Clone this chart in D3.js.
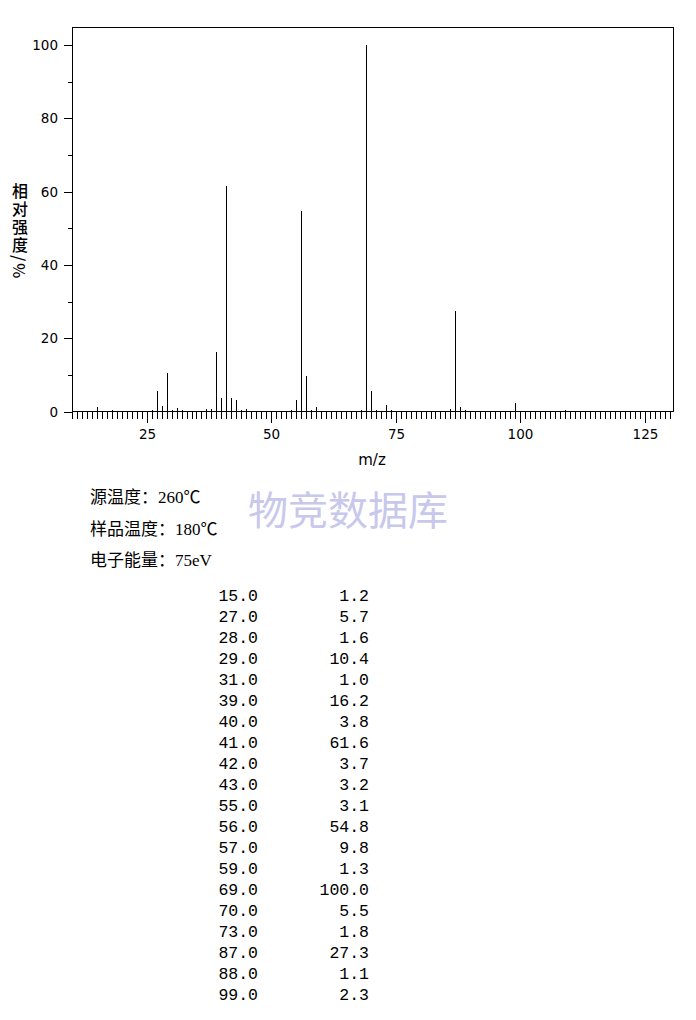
<!DOCTYPE html>
<html><head><meta charset="utf-8">
<script src="https://cdn.jsdelivr.net/npm/d3@7"></script>
<style>
html,body{margin:0;padding:0;background:#fff;}
svg{display:block;}
</style></head>
<body>
<script>
// Listed peaks (m/z, relative intensity %)
const tableMz = [15,27,28,29,31,39,40,41,42,43,55,56,57,59,69,70,73,87,88,99];
const tableInt = [1.2,5.7,1.6,10.4,1.0,16.2,3.8,61.6,3.7,3.2,3.1,54.8,9.8,1.3,100.0,5.5,1.8,27.3,1.1,2.3];
// Minor peaks visible in the spectrum only
const minorMz = [18,26,30,32,37,38,44,45,53,54,58,68,71,74,86,89,109];
const minorInt = [0.5,0.5,0.3,0.4,0.6,0.8,0.4,0.6,0.2,0.3,0.3,0.5,0.5,0.4,0.8,0.3,0.4];
const xTickLabels = [25,50,75,100,125];
const yTickLabels = [0,20,40,60,80,100];
const infoLines = ["源温度：260℃","样品温度：180℃","电子能量：75eV"];
const yLabel = "相对强度/%";

const W=696,H=1020;
const svg=d3.select("body").append("svg").attr("width",W).attr("height",H);
const L=72.5,R=673.5,T=27.5,B=411.5;
const x=d3.scaleLinear().domain([10,130.7]).range([L,R]);
const y=d3.scaleLinear().domain([0,104.8]).range([B,T]);
const px=v=>Math.floor(x(v))+0.5;

const peaks=tableMz.map((m,i)=>({mz:m,v:tableInt[i]})).concat(minorMz.map((m,i)=>({mz:m,v:minorInt[i]})));

const g=svg.append("g");
// frame
g.append("rect").attr("x",L).attr("y",T).attr("width",R-L).attr("height",B-T)
 .attr("fill","none").attr("stroke","#000").attr("stroke-width",1).attr("shape-rendering","crispEdges");

// x ticks
const xt=d3.range(10,131);
g.selectAll("line.xt").data(xt).enter().append("line")
 .attr("x1",d=>px(d)).attr("x2",d=>px(d))
 .attr("y1",B).attr("y2",d=>d%25===0?B+11:B+7)
 .attr("stroke","#000").attr("shape-rendering","crispEdges");
g.selectAll("text.xl").data(xTickLabels).enter().append("text")
 .attr("x",d=>px(d)).attr("y",439).attr("text-anchor","middle")
 .attr("font-family","DejaVu Sans").attr("font-size",13.5).text(d=>d);

// y ticks
const yt=d3.range(0,101,10);
g.selectAll("line.yt").data(yt).enter().append("line")
 .attr("y1",d=>Math.round(y(d))+0.5).attr("y2",d=>Math.round(y(d))+0.5)
 .attr("x1",L).attr("x2",d=>d%20===0?L-9:L-5)
 .attr("stroke","#000").attr("shape-rendering","crispEdges");
g.selectAll("text.yl").data(yTickLabels).enter().append("text")
 .attr("x",58).attr("y",d=>Math.round(y(d))+5).attr("text-anchor","end")
 .attr("font-family","DejaVu Sans").attr("font-size",13.5).text(d=>d);

// peaks
g.selectAll("line.pk").data(peaks).enter().append("line")
 .attr("x1",d=>px(d.mz)).attr("x2",d=>px(d.mz))
 .attr("y1",B).attr("y2",d=>Math.round(y(d.v)))
 .attr("stroke","#000").attr("stroke-width",1).attr("shape-rendering","crispEdges");

// axis titles
svg.append("text").attr("x",372).attr("y",465).attr("text-anchor","middle")
 .attr("font-family","DejaVu Sans").attr("font-size",15).text("m/z");
svg.append("text").attr("x",20).attr("y",183)
 .attr("style","writing-mode:vertical-rl;text-orientation:mixed;letter-spacing:2px")
 .attr("font-family","Noto Sans CJK SC").attr("font-size",16).attr("font-weight",500).text(yLabel);

// info lines
svg.selectAll("text.info").data(infoLines).enter().append("text")
 .attr("x",90).attr("y",(d,i)=>503+i*31.5)
 .attr("font-family","Liberation Serif, Noto Sans CJK SC").attr("font-size",17).text(d=>d);

// watermark
svg.append("text").attr("x",348).attr("y",525).attr("text-anchor","middle")
 .attr("font-family","Noto Sans CJK SC").attr("font-size",40).attr("fill","#c8c8ec").text("物竞数据库");

// table
const rows=tableMz.map((m,i)=>({m,v:tableInt[i]}));
svg.selectAll("text.c1").data(rows).enter().append("text")
 .attr("x",258).attr("y",(d,i)=>601+i*21).attr("text-anchor","end")
 .attr("font-family","Liberation Mono").attr("font-size",16.5).text(d=>d.m.toFixed(1));
svg.selectAll("text.c2").data(rows).enter().append("text")
 .attr("x",369).attr("y",(d,i)=>601+i*21).attr("text-anchor","end")
 .attr("font-family","Liberation Mono").attr("font-size",16.5).text(d=>d.v.toFixed(1));
</script>
</body></html>
